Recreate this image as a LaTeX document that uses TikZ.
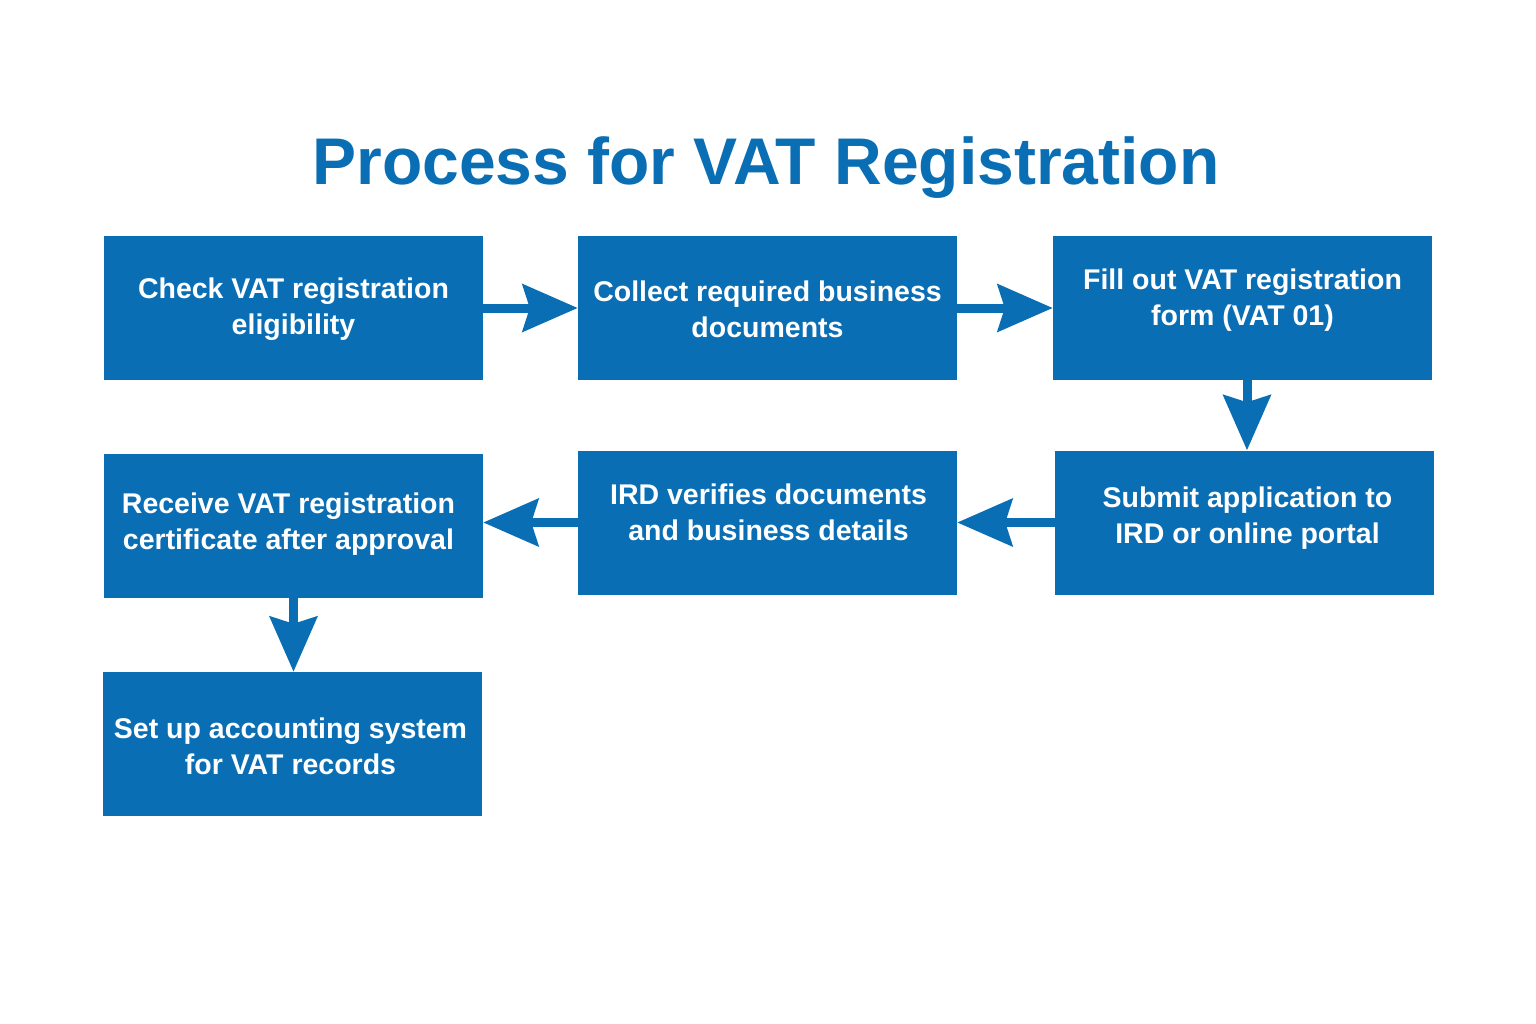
\documentclass[tikz,border=0pt]{standalone}
\usepackage{fontspec}
\setmainfont{Liberation Sans}
\usetikzlibrary{arrows.meta}
\definecolor{vatblue}{RGB}{10,110,180}
\begin{document}
\begin{tikzpicture}[x=1pt,y=-1pt,
  stepbox/.style={fill=vatblue,draw=none,minimum width=379pt,minimum height=144pt,inner sep=0pt},
  steptext/.style={text=white,font=\bfseries\fontsize{28.5}{36}\selectfont,align=center},
  flow/.style={draw=vatblue,line width=9pt,-{Stealth[length=55pt,width=47pt,inset=7pt]}}]
\useasboundingbox (0,0) rectangle (1536,1024);
\node[text=vatblue,font=\bfseries\fontsize{66}{72}\selectfont] (title) at (766,168) {Process for VAT Registration};
\node[stepbox] (b1) at (293.5,308) {};
\node[stepbox] (b2) at (767.5,308) {};
\node[stepbox] (b3) at (1242.5,308) {};
\node[stepbox] (b4) at (1244.5,522.5) {};
\node[stepbox] (b5) at (767.5,522.5) {};
\node[stepbox] (b6) at (293.5,526) {};
\node[stepbox] (b7) at (292.5,744) {};
\node[steptext] (t1) at (293.5,309) {Check VAT registration\\eligibility};
\node[steptext] (t2) at (767.5,309) {Collect required business\\documents};
\node[steptext] (t3) at (1242.5,300) {Fill out VAT registration\\form (VAT 01)};
\node[steptext] (t4) at (1247.5,518) {Submit application to\\IRD or online portal};
\node[steptext] (t5) at (768.5,512) {IRD verifies documents\\and business details};
\node[steptext] (t6) at (288.5,524) {Receive VAT registration\\certificate after approval};
\node[steptext] (t7) at (290.5,746) {Set up accounting system\\for VAT records};
\draw[flow] (b1.east) -- (b2.west);
\draw[flow] (b2.east) -- (b3.west);
\draw[flow] ([xshift=4.5pt]b3.south) -- ([xshift=2.5pt]b4.north);
\draw[flow] (b4.west) -- (b5.west -| b5.east);
\draw[flow] (b5.west) -- (b5.west -| b6.east);
\draw[flow] (b6.south) -- ([xshift=1pt]b7.north);
\end{tikzpicture}
\end{document}
